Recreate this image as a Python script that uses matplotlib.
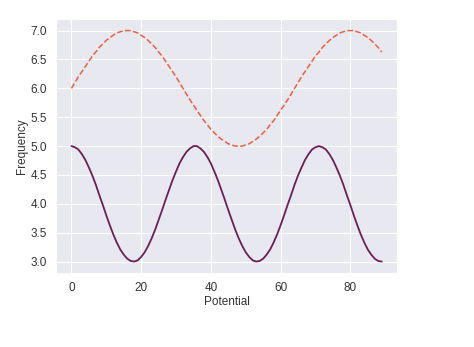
import matplotlib
matplotlib.use("Agg")
import matplotlib.pyplot as plt
import seaborn as sns

potential = list(range(90))

freq_solid = [
    5.00, 4.98, 4.94, 4.86, 4.76, 4.63, 4.49, 4.33, 4.15, 3.98,
    3.80, 3.63, 3.47, 3.33, 3.21, 3.12, 3.05, 3.01, 3.00, 3.02,
    3.08, 3.16, 3.27, 3.40, 3.55, 3.72, 3.89, 4.07, 4.24, 4.41,
    4.56, 4.70, 4.81, 4.90, 4.96, 5.00, 5.00, 4.96, 4.90, 4.81,
    4.70, 4.56, 4.41, 4.24, 4.07, 3.89, 3.72, 3.55, 3.40, 3.27,
    3.16, 3.08, 3.02, 3.00, 3.01, 3.05, 3.12, 3.21, 3.33, 3.47,
    3.63, 3.80, 3.98, 4.15, 4.33, 4.49, 4.63, 4.76, 4.86, 4.94,
    4.98, 5.00, 4.98, 4.94, 4.86, 4.76, 4.63, 4.49, 4.33, 4.15,
    3.98, 3.80, 3.63, 3.47, 3.33, 3.21, 3.12, 3.05, 3.01, 3.00,
]

freq_dashed = [
    6.00, 6.10, 6.20, 6.29, 6.38, 6.47, 6.56, 6.63, 6.71, 6.77,
    6.83, 6.88, 6.92, 6.96, 6.98, 7.00, 7.00, 7.00, 6.98, 6.96,
    6.92, 6.88, 6.83, 6.77, 6.71, 6.63, 6.56, 6.47, 6.38, 6.29,
    6.20, 6.10, 6.00, 5.90, 5.80, 5.71, 5.62, 5.53, 5.44, 5.37,
    5.29, 5.23, 5.17, 5.12, 5.08, 5.04, 5.02, 5.00, 5.00, 5.00,
    5.02, 5.04, 5.08, 5.12, 5.17, 5.23, 5.29, 5.37, 5.44, 5.53,
    5.62, 5.71, 5.80, 5.90, 6.00, 6.10, 6.20, 6.29, 6.38, 6.47,
    6.56, 6.63, 6.71, 6.77, 6.83, 6.88, 6.92, 6.96, 6.98, 7.00,
    7.00, 7.00, 6.98, 6.96, 6.92, 6.88, 6.83, 6.77, 6.71, 6.63,
]

sns.set_style("darkgrid")
plt.rcParams['font.family'] = ['Liberation Sans', 'DejaVu Sans']

fig = plt.figure(figsize=(4.74, 3.47), dpi=100)
ax = fig.add_axes([0.118, 0.213, 0.72, 0.732])
ax.set_facecolor("#e8e8f0")

ax.plot(potential, freq_solid, color="#6b1f52", linewidth=1.3, linestyle="-",
        solid_joinstyle="round")
ax.plot(potential, freq_dashed, color="#ec6040", linewidth=1.1, linestyle="--")

ax.set_xlabel("Potential", fontsize=8.5, labelpad=1, color="#333333")
ax.set_ylabel("Frequency", fontsize=8.5, labelpad=2, color="#333333")
ax.tick_params(labelsize=8.5, pad=3, labelcolor="#333333")
ax.set_xticks([0, 20, 40, 60, 80])
ax.set_yticks([3.0, 3.5, 4.0, 4.5, 5.0, 5.5, 6.0, 6.5, 7.0])

fig.savefig("out.png", dpi=100)
